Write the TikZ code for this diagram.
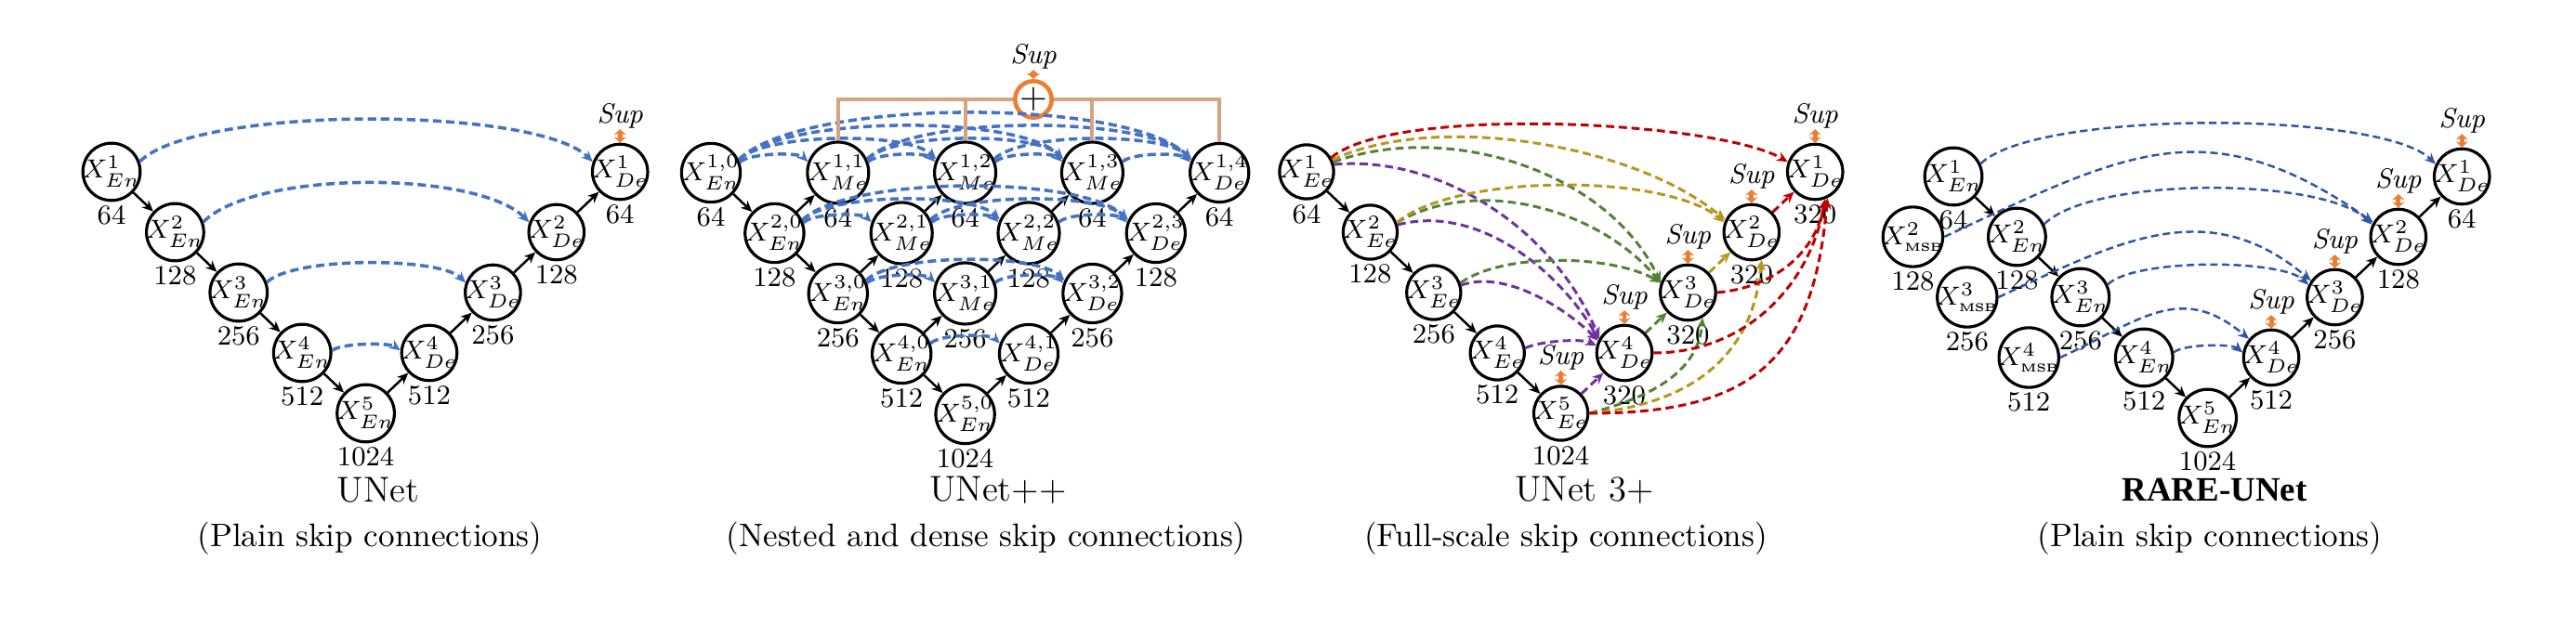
\documentclass[tikz,border=0pt]{standalone}
\usepackage{fontspec}
\newfontfamily\timesbf{Liberation Serif}
\usetikzlibrary{positioning,arrows.meta}
\definecolor{skipblue}{HTML}{4472C4}
\definecolor{rareblue}{HTML}{2F55A8}
\definecolor{suporange}{HTML}{ED7D31}
\definecolor{dstan}{HTML}{D9A27E}
\definecolor{fspurple}{HTML}{7030A0}
\definecolor{fsgreen}{HTML}{548235}
\definecolor{fsolive}{HTML}{B8961E}
\definecolor{fsred}{HTML}{C00000}
\begin{document}
\begin{tikzpicture}[node distance=0.65cm and 0.684cm, on grid,
    >={Stealth[length=3.4pt,width=3pt]},
    unit/.style={circle, draw, line width=0.9pt, minimum size=0.58cm, inner sep=-1pt, font=\fontsize{8}{9}\selectfont},
    lab/.style={font=\fontsize{8.5}{9}\selectfont, inner sep=1pt},
    suptext/.style={font=\fontsize{8.5}{9}\selectfont\itshape, inner sep=0pt},
    suparrow/.style={{Stealth[length=1.8pt,width=3.8pt]}-{Stealth[length=1.8pt,width=3.8pt]}, suporange, line width=1.4pt},
    fwd/.style={->, line width=0.7pt},
    bluedash/.style={->, skipblue, line width=1pt, dash pattern=on 2.6pt off 1.4pt},
    raredash/.style={->, rareblue, line width=0.7pt, dash pattern=on 2.3pt off 1.3pt},
    fsdash/.style={->, #1, line width=0.85pt, dash pattern=on 2.5pt off 1.4pt},
    pname/.style={font=\fontsize{11}{13}\selectfont},
    psub/.style={font=\fontsize{10}{12}\selectfont}]
\useasboundingbox (0,0) rectangle (27.72,-6.88);

% UNet
\node[unit, label={[lab]below:64}] (ue1) at (1.20,-1.85) {$X^{1}_{En}$};
\node[unit, label={[lab]below:128}, below right=of ue1] (ue2) {$X^{2}_{En}$};
\node[unit, label={[lab]below:256}, below right=of ue2] (ue3) {$X^{3}_{En}$};
\node[unit, label={[lab]below:512}, below right=of ue3] (ue4) {$X^{4}_{En}$};
\node[unit, label={[lab]below:1024}, below right=of ue4] (ue5) {$X^{5}_{En}$};
\node[unit, label={[lab]below:512}, above right=of ue5] (ud4) {$X^{4}_{De}$};
\node[unit, label={[lab]below:256}, above right=of ud4] (ud3) {$X^{3}_{De}$};
\node[unit, label={[lab]below:128}, above right=of ud3] (ud2) {$X^{2}_{De}$};
\node[unit, label={[lab]below:64}, above right=of ud2] (ud1) {$X^{1}_{De}$};
\node[suptext, above=0.6cm of ud1] (usup) {Sup};
\draw[fwd] (ue1) -- (ue2);
\draw[fwd] (ue2) -- (ue3);
\draw[fwd] (ue3) -- (ue4);
\draw[fwd] (ue4) -- (ue5);
\draw[fwd] (ue5) -- (ud4);
\draw[fwd] (ud4) -- (ud3);
\draw[fwd] (ud3) -- (ud2);
\draw[fwd] (ud2) -- (ud1);
\draw[bluedash] (ue1.20) to[out=45, in=135, looseness=0.45] (ud1.160);
\draw[bluedash] (ue2.20) to[out=45, in=135, looseness=0.58] (ud2.160);
\draw[bluedash] (ue3.20) to[out=45, in=135, looseness=0.47] (ud3.160);
\draw[bluedash] (ue4.5) to[out=35, in=145, looseness=0.5] (ud4.175);
\draw[suparrow] (ud1) -- (usup);
\node[pname] (unettitle) at (4.07,-5.28) {UNet};
\node[psub] (unetsub) at (3.98,-5.80) {(Plain skip connections)};

% UNet++
\node[unit, label={[lab]below:64}] (p10) at (7.65,-1.86) {$X^{1,0}_{En}$};
\node[unit, label={[lab]below:128}, below right=of p10] (p20) {$X^{2,0}_{En}$};
\node[unit, label={[lab]below:256}, below right=of p20] (p30) {$X^{3,0}_{En}$};
\node[unit, label={[lab]below:512}, below right=of p30] (p40) {$X^{4,0}_{En}$};
\node[unit, label={[lab]below:1024}, below right=of p40] (p50) {$X^{5,0}_{En}$};
\node[unit, label={[lab]below:64}, above right=of p20] (p11) {$X^{1,1}_{Me}$};
\node[unit, label={[lab]below:128}, above right=of p30] (p21) {$X^{2,1}_{Me}$};
\node[unit, label={[lab]below:64}, above right=of p21] (p12) {$X^{1,2}_{Me}$};
\node[unit, label={[lab]below:256}, above right=of p40] (p31) {$X^{3,1}_{Me}$};
\node[unit, label={[lab]below:128}, above right=of p31] (p22) {$X^{2,2}_{Me}$};
\node[unit, label={[lab]below:64}, above right=of p22] (p13) {$X^{1,3}_{Me}$};
\node[unit, label={[lab]below:512}, above right=of p50] (p41) {$X^{4,1}_{De}$};
\node[unit, label={[lab]below:256}, above right=of p41] (p32) {$X^{3,2}_{De}$};
\node[unit, label={[lab]below:128}, above right=of p32] (p23) {$X^{2,3}_{De}$};
\node[unit, label={[lab]below:64}, above right=of p23] (p14) {$X^{1,4}_{De}$};
\node[circle, draw=suporange, line width=1.3pt, fill=white, minimum size=0.35cm, inner sep=0pt, font=\fontsize{11}{11}\selectfont] (plus) at (11.12,-1.07) {$+$};
\node[suptext, above=0.46cm of plus] (psup) {Sup};
\draw[fwd] (p10) -- (p20);
\draw[fwd] (p20) -- (p30);
\draw[fwd] (p30) -- (p40);
\draw[fwd] (p40) -- (p50);
\draw[fwd] (p50) -- (p41);
\draw[fwd] (p41) -- (p32);
\draw[fwd] (p32) -- (p23);
\draw[fwd] (p23) -- (p14);
\draw[fwd] (p20) -- (p11);
\draw[fwd] (p30) -- (p21);
\draw[fwd] (p21) -- (p12);
\draw[fwd] (p40) -- (p31);
\draw[fwd] (p31) -- (p22);
\draw[fwd] (p22) -- (p13);
\draw[bluedash] (p10.20) to[out=45, in=135, looseness=0.5] (p11.160);
\draw[bluedash] (p10.25) to[out=45, in=135, looseness=0.5] (p12.155);
\draw[bluedash] (p10.25) to[out=45, in=135, looseness=0.5] (p13.155);
\draw[bluedash] (p10.25) to[out=45, in=135, looseness=0.5] (p14.155);
\draw[bluedash] (p11.20) to[out=45, in=135, looseness=0.5] (p12.160);
\draw[bluedash] (p11.25) to[out=45, in=135, looseness=0.5] (p13.155);
\draw[bluedash] (p11.25) to[out=45, in=135, looseness=0.5] (p14.155);
\draw[bluedash] (p12.20) to[out=45, in=135, looseness=0.5] (p13.160);
\draw[bluedash] (p12.25) to[out=45, in=135, looseness=0.5] (p14.155);
\draw[bluedash] (p13.20) to[out=45, in=135, looseness=0.5] (p14.160);
\draw[bluedash] (p20.20) to[out=45, in=135, looseness=0.5] (p21.160);
\draw[bluedash] (p20.25) to[out=45, in=135, looseness=0.5] (p22.155);
\draw[bluedash] (p20.25) to[out=45, in=135, looseness=0.5] (p23.155);
\draw[bluedash] (p21.20) to[out=45, in=135, looseness=0.5] (p22.160);
\draw[bluedash] (p21.25) to[out=45, in=135, looseness=0.5] (p23.155);
\draw[bluedash] (p22.20) to[out=45, in=135, looseness=0.5] (p23.160);
\draw[bluedash] (p30.20) to[out=45, in=135, looseness=0.5] (p31.160);
\draw[bluedash] (p30.25) to[out=45, in=135, looseness=0.5] (p32.155);
\draw[bluedash] (p31.20) to[out=45, in=135, looseness=0.5] (p32.160);
\draw[bluedash] (p40.20) to[out=45, in=135, looseness=0.5] (p41.160);
\draw[dstan, line width=1.1pt] (p11.north) |- (plus.west);
\draw[dstan, line width=1.1pt] (p14.north) |- (plus.east);
\draw[dstan, line width=1.1pt] (p12.north) -- (p12.north |- plus.center);
\draw[dstan, line width=1.1pt] (p13.north) -- (p13.north |- plus.center);
\draw[suparrow] (plus) -- (psup);
\node[pname] (pptitle) at (10.74,-5.28) {UNet++};
\node[psub] (ppsub) at (10.61,-5.80) {(Nested and dense skip connections)};

% UNet 3+
\node[unit, label={[lab]below:64}] (t1) at (14.06,-1.85) {$X^{1}_{Ee}$};
\node[unit, label={[lab]below:128}, below right=of t1] (t2) {$X^{2}_{Ee}$};
\node[unit, label={[lab]below:256}, below right=of t2] (t3) {$X^{3}_{Ee}$};
\node[unit, label={[lab]below:512}, below right=of t3] (t4) {$X^{4}_{Ee}$};
\node[unit, label={[lab]below:1024}, below right=of t4] (t5) {$X^{5}_{Ee}$};
\node[unit, label={[lab]below:320}, above right=of t5] (td4) {$X^{4}_{De}$};
\node[unit, label={[lab]below:320}, above right=of td4] (td3) {$X^{3}_{De}$};
\node[unit, label={[lab]below:320}, above right=of td3] (td2) {$X^{2}_{De}$};
\node[unit, label={[lab]below:320}, above right=of td2] (td1) {$X^{1}_{De}$};
\node[suptext, above=0.6cm of t5] (tsup5) {Sup};
\node[suptext, above=0.6cm of td4] (tsup4) {Sup};
\node[suptext, above=0.6cm of td3] (tsup3) {Sup};
\node[suptext, above=0.6cm of td2] (tsup2) {Sup};
\node[suptext, above=0.6cm of td1] (tsup1) {Sup};
\draw[fwd] (t1) -- (t2);
\draw[fwd] (t2) -- (t3);
\draw[fwd] (t3) -- (t4);
\draw[fwd] (t4) -- (t5);
\draw[fsdash=fspurple] (t1.15) to[out=5, in=112, looseness=0.9] (td4.150);
\draw[fsdash=fspurple] (t2.15) to[out=15, in=120, looseness=0.9] (td4.152);
\draw[fsdash=fspurple] (t3.15) to[out=20, in=135, looseness=0.8] (td4.155);
\draw[fsdash=fspurple] (t4.10) to[out=25, in=155, looseness=0.6] (td4.165);
\draw[fsdash=fspurple] (t5) -- (td4);
\draw[fsdash=fsgreen] (t1.20) to[out=20, in=115, looseness=0.9] (td3.160);
\draw[fsdash=fsgreen] (t2.20) to[out=30, in=130, looseness=0.9] (td3.160);
\draw[fsdash=fsgreen] (t3.20) to[out=35, in=150, looseness=0.7] (td3.160);
\draw[fsdash=fsgreen] (td4) -- (td3);
\draw[fsdash=fsgreen] (t5.east) to[out=15, in=-95] (td3.300);
\draw[fsdash=fsolive] (t1.25) to[out=25, in=140, looseness=0.75] (td2.155);
\draw[fsdash=fsolive] (t2.20) to[out=40, in=140, looseness=0.6] (td2.160);
\draw[fsdash=fsolive] (td3) -- (td2);
\draw[fsdash=fsolive] (t5.east) to[out=5, in=-95, looseness=1.1] (td2.290);
\draw[fsdash=fsred] (t1.30) to[out=40, in=150, looseness=0.46] (td1.160);
\draw[fsdash=fsred] (td2) -- (td1);
\draw[fsdash=fsred] (td3.east) to[out=5, in=-100] (td1.290);
\draw[fsdash=fsred] (td4.east) to[out=0, in=-100] (td1.290);
\draw[fsdash=fsred] (t5.east) to[out=0, in=-95, looseness=1.3] (td1.295);
\draw[suparrow] (t5) -- (tsup5);
\draw[suparrow] (td4) -- (tsup4);
\draw[suparrow] (td3) -- (tsup3);
\draw[suparrow] (td2) -- (tsup2);
\draw[suparrow] (td1) -- (tsup1);
\node[pname] (tptitle) at (17.05,-5.28) {UNet 3+};
\node[psub] (tpsub) at (16.85,-5.80) {(Full-scale skip connections)};

% RARE-UNet
\node[unit, label={[lab]below:64}] (r1) at (21.02,-1.90) {$X^{1}_{En}$};
\node[unit, label={[lab]below:128}, below right=of r1] (r2) {$X^{2}_{En}$};
\node[unit, label={[lab]below:256}, below right=of r2] (r3) {$X^{3}_{En}$};
\node[unit, label={[lab]below:512}, below right=of r3] (r4) {$X^{4}_{En}$};
\node[unit, label={[lab]below:1024}, below right=of r4] (r5) {$X^{5}_{En}$};
\node[unit, label={[lab]below:512}, above right=of r5] (rd4) {$X^{4}_{De}$};
\node[unit, label={[lab]below:256}, above right=of rd4] (rd3) {$X^{3}_{De}$};
\node[unit, label={[lab]below:128}, above right=of rd3] (rd2) {$X^{2}_{De}$};
\node[unit, label={[lab]below:64}, above right=of rd2] (rd1) {$X^{1}_{De}$};
\node[unit, label={[lab]below:128}, left=1.12cm of r2] (msb2) {$X^{2}_{\mbox{\fontsize{3.5}{4}\selectfont\bfseries MSB}}$};
\node[unit, label={[lab]below:256}, left=1.22cm of r3] (msb3) {$X^{3}_{\mbox{\fontsize{3.5}{4}\selectfont\bfseries MSB}}$};
\node[unit, label={[lab]below:512}, left=1.24cm of r4] (msb4) {$X^{4}_{\mbox{\fontsize{3.5}{4}\selectfont\bfseries MSB}}$};
\node[suptext, above=0.6cm of rd4] (rsup4) {Sup};
\node[suptext, above=0.6cm of rd3] (rsup3) {Sup};
\node[suptext, above=0.6cm of rd2] (rsup2) {Sup};
\node[suptext, above=0.6cm of rd1] (rsup1) {Sup};
\draw[fwd] (r1) -- (r2);
\draw[fwd] (r2) -- (r3);
\draw[fwd] (r3) -- (r4);
\draw[fwd] (r4) -- (r5);
\draw[fwd] (r5) -- (rd4);
\draw[fwd] (rd4) -- (rd3);
\draw[fwd] (rd3) -- (rd2);
\draw[fwd] (rd2) -- (rd1);
\draw[raredash] (r1.25) to[out=45, in=135, looseness=0.43] (rd1.155);
\draw[raredash] (r2.25) to[out=45, in=135, looseness=0.53] (rd2.155);
\draw[raredash] (r3.25) to[out=45, in=135, looseness=0.47] (rd3.155);
\draw[raredash] (r4.10) to[out=40, in=140, looseness=0.5] (rd4.170);
\draw[raredash] (msb2.east) to[out=25, in=145, looseness=1.2] (rd2.150);
\draw[raredash] (msb3.east) to[out=25, in=140, looseness=1.1] (rd3.145);
\draw[raredash] (msb4.east) to[out=25, in=140, looseness=1.2] (rd4.140);
\draw[suparrow] (rd4) -- (rsup4);
\draw[suparrow] (rd3) -- (rsup3);
\draw[suparrow] (rd2) -- (rsup2);
\draw[suparrow] (rd1) -- (rsup1);
\node[pname, font=\timesbf\bfseries\fontsize{10.5}{12}\selectfont] (rtitle) at (23.83,-5.28) {RARE-UNet};
\node[psub] (rsub) at (23.78,-5.80) {(Plain skip connections)};
\end{tikzpicture}
\end{document}
